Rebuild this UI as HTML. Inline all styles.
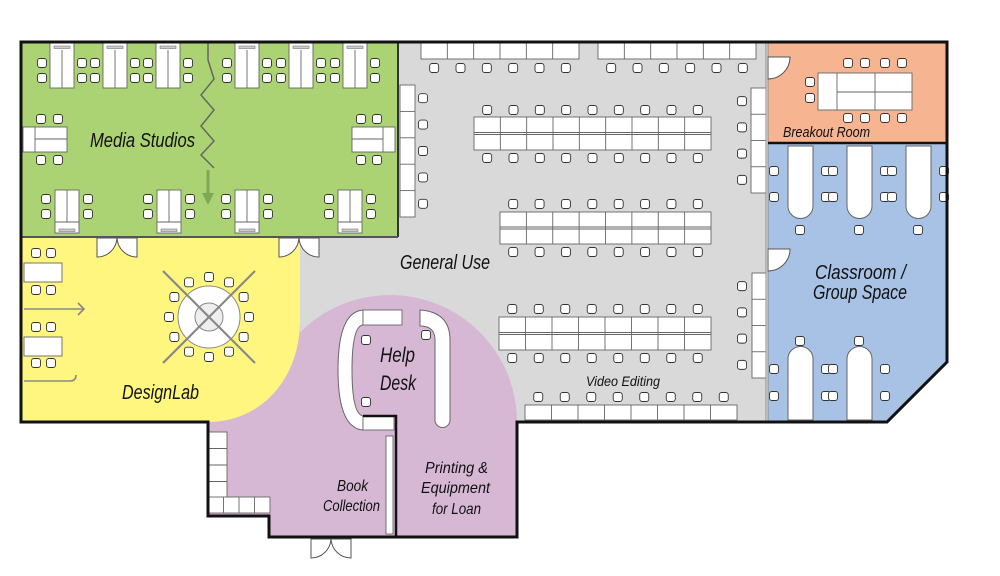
<!DOCTYPE html>
<html><head><meta charset="utf-8"><style>
html,body{margin:0;padding:0;background:#fff}
svg{display:block}
text{font-family:"Liberation Sans Narrow","Liberation Sans",sans-serif;font-style:italic;fill:#111}
</style></head><body>
<svg id="s" width="1000" height="576" viewBox="0 0 1000 576" xmlns="http://www.w3.org/2000/svg">
<defs><clipPath id="cp"><rect x="0" y="0" width="1000" height="422"/><path d="M208,421 H517 V537 H269 V516 H208 Z"/></clipPath></defs>
<rect x="300" y="42" width="468" height="380" fill="#d9d9d9"/>
<rect x="21" y="42" width="377" height="195" fill="#acd373"/>
<g clip-path="url(#cp)"><circle cx="390" cy="422" r="127" fill="#d6b8d4"/></g>
<rect x="208" y="290" width="92" height="133" fill="#d6b8d4"/>
<path d="M208,421 H517 V537 H269 V516 H208 Z" fill="#d6b8d4"/>
<path d="M21,237 H300 V320 C300,380 260,422 208,422 H21 Z" fill="#fff67f"/>
<rect x="768" y="42" width="179" height="101" fill="#f7b490"/>
<path d="M768,143 H947 V362 L887,422 H768 Z" fill="#a7c2e4"/>
<g id="furn"></g>
<polyline points="208,42 208,60 214,79 201,95 214,110 201,126 214,141 201,155 214,168" fill="none" stroke="#666" stroke-width="1.5"/>
<line x1="208" y1="170" x2="208" y2="196" stroke="#7fa855" stroke-width="3"/>
<polygon points="202,193 214,193 208,205" fill="#7fa855"/>
<g fill="none" stroke="#111">
<line x1="398" y1="42" x2="398" y2="237" stroke-width="2" stroke="#333"/>
<line x1="21" y1="237" x2="398" y2="237" stroke-width="2" stroke="#555"/>
<line x1="767" y1="42" x2="767" y2="422" stroke-width="3" stroke="#888"/>
<line x1="767" y1="42" x2="767" y2="422" stroke-width="1" stroke="#eee"/>
<line x1="768" y1="143" x2="947" y2="143" stroke-width="2.5"/>
<path d="M363,416 H396 V537" stroke-width="2.5"/>
<path d="M21,42 H947 V362 L887,422 H517 V537 H269 V516 H208 V422 H21 Z" stroke-width="3"/>
</g>
<g fill="#fff" stroke="#555" stroke-width="1">
<path d="M97,238 V257 A20,20 0 0 0 117,238 Z"/><path d="M137,238 V257 A20,20 0 0 1 117,238 Z"/>
<path d="M279,238 V257 A20,20 0 0 0 299,238 Z"/><path d="M319,238 V257 A20,20 0 0 1 299,238 Z"/>
<path d="M311,539 V558 A20,20 0 0 0 331,539 Z"/><path d="M351,539 V558 A20,20 0 0 1 331,539 Z"/>
<path d="M768,57 H790 A22,22 0 0 1 768,79 Z"/>
<path d="M768,249 H790 A22,22 0 0 1 768,271 Z"/>
</g>
<text x="90" y="147" font-size="20" textLength="105" lengthAdjust="spacingAndGlyphs">Media Studios</text>
<text x="400" y="269" font-size="20" textLength="90" lengthAdjust="spacingAndGlyphs">General Use</text>
<text x="122" y="399" font-size="20" textLength="77" lengthAdjust="spacingAndGlyphs">DesignLab</text>
<text x="380" y="362" font-size="21" textLength="35" lengthAdjust="spacingAndGlyphs">Help</text>
<text x="380" y="390" font-size="21" textLength="36" lengthAdjust="spacingAndGlyphs">Desk</text>
<text x="337" y="491" font-size="16" textLength="31" lengthAdjust="spacingAndGlyphs">Book</text>
<text x="323" y="511" font-size="16" textLength="57" lengthAdjust="spacingAndGlyphs">Collection</text>
<text x="425" y="473" font-size="16" textLength="63" lengthAdjust="spacingAndGlyphs">Printing &amp;</text>
<text x="421" y="493" font-size="16" textLength="69" lengthAdjust="spacingAndGlyphs">Equipment</text>
<text x="432" y="514" font-size="16" textLength="49" lengthAdjust="spacingAndGlyphs">for Loan</text>
<text x="586" y="386" font-size="14" textLength="74" lengthAdjust="spacingAndGlyphs">Video Editing</text>
<text x="783" y="137" font-size="15" textLength="87" lengthAdjust="spacingAndGlyphs">Breakout Room</text>
<text x="815" y="279" font-size="20" textLength="91" lengthAdjust="spacingAndGlyphs">Classroom /</text>
<text x="813" y="299" font-size="20" textLength="94" lengthAdjust="spacingAndGlyphs">Group Space</text>
</svg>
<script>
var g=document.getElementById('furn'),h='';
function ch(x,y){h+='<rect x="'+(x-4.5)+'" y="'+(y-4.5)+'" width="9" height="9" rx="2.5" fill="#fff" stroke="#333" stroke-width="0.9"/>';}
function R(x,y,w,hh,extra){h+='<rect x="'+x+'" y="'+y+'" width="'+w+'" height="'+hh+'" fill="#fff" stroke="#666" stroke-width="0.9" '+(extra||'')+'/>';}
function L(a,b,c,d,col,w){h+='<line x1="'+a+'" y1="'+b+'" x2="'+c+'" y2="'+d+'" stroke="'+(col||'#666')+'" stroke-width="'+(w||0.9)+'"/>';}
function hrow(x,y,w,hh,n,split){R(x,y,w,hh);var cw=w/n;for(var i=1;i<n;i++)L(x+cw*i,y,x+cw*i,y+hh);if(split){L(x,y+hh/2-1,x+w,y+hh/2-1);L(x,y+hh/2+1,x+w,y+hh/2+1);}}
function vrow(x,y,w,hh,n){R(x,y,w,hh);var c=hh/n;for(var i=1;i<n;i++)L(x,y+c*i,x+w,y+c*i);}
function chRowH(x0,x1,n,y){var cw=(x1-x0)/n;for(var i=0;i<n;i++)ch(x0+cw*(i+.5),y);}
function chRowV(y0,y1,n,x){var c=(y1-y0)/n;for(var i=0;i<n;i++)ch(x,y0+c*(i+.5));}
hrow(421,43,158,16,6);chRowH(421,579,6,68);
hrow(598,43,158,16,6);chRowH(598,756,6,68);
vrow(400,85,15,132,5);chRowV(85,217,5,423);
hrow(474,117,237,33,9,1);chRowH(474,711,9,110);chRowH(474,711,9,158);
vrow(751,88,15,105,4);chRowV(88,193,4,742);
hrow(500,212,211,32,8,1);chRowH(500,711,8,204);chRowH(500,711,8,252);
hrow(499,317,212,33,8,1);chRowH(499,711,8,309);chRowH(499,711,8,358);
vrow(752,273,15,105,4);chRowV(273,378,4,742);
hrow(525,405,212,15,8);chRowH(525,737,8,397);
[62,115,168,247,301,355].forEach(function(c){R(c-12,43,24,45);L(c,50,c,88);h+='<rect x="'+(c-8)+'" y="46" width="16" height="2.5" fill="#ccc" stroke="#777" stroke-width="0.6"/>';ch(c-20,63);ch(c-20,78);ch(c+20,63);ch(c+20,78);});
[67,169,247,350].forEach(function(c){R(c-12,190,24,43);L(c,190,c,222);L(c-12,222,c+12,222);h+='<rect x="'+(c-8)+'" y="229" width="16" height="2.5" fill="#ccc" stroke="#777" stroke-width="0.6"/>';ch(c-21,199);ch(c-21,214);ch(c+21,199);ch(c+21,214);});
R(23,127,44,25);L(35,127,35,152);L(35,139,67,139);ch(41,119);ch(58,119);ch(41,160);ch(58,160);
R(352,127,43,25);L(383,127,383,152);L(352,139,383,139);ch(361,119);ch(377,119);ch(361,160);ch(377,160);
R(24,263,38,19);ch(36,253);ch(51,253);ch(36,290);ch(51,290);
R(24,337,38,19);ch(36,327);ch(51,327);ch(36,363);ch(51,363);
h+='<path d="M24,309 H84 M78,303 L84,309 L78,315 M24,381 H70 Q76,381 76,375" fill="none" stroke="#888" stroke-width="1.6"/>';
var cx=209,cy=317;
for(var a=0;a<360;a+=30){var r=a*Math.PI/180;ch(cx+40*Math.cos(r),cy+40*Math.sin(r));}
h+='<circle cx="'+cx+'" cy="'+cy+'" r="31" fill="#fff" stroke="#888"/><circle cx="'+cx+'" cy="'+cy+'" r="14" fill="#eee" stroke="#888"/>';
L(163,271,255,363,'#888',2.2);L(255,271,163,363,'#888',2.2);
h+='<path d="M363,310 Q338,312 338,370 Q338,428 363,430 L363,416 Q352,414 352,370 Q352,326 363,325 Z" fill="#fff" stroke="#666"/>';
R(363,310,39,15);R(363,416,31,14);
h+='<path d="M420,310 Q450,312 450,340 V420 A7.5,7.5 0 0 1 435,420 V340 Q435,326 420,326 Z" fill="#fff" stroke="#666"/>';
ch(366,340);ch(366,402);ch(426,335);
R(386,436,7,98);
vrow(208,432,19,66,4);hrow(208,497,62,16,4);
R(818,73,94,37);L(837,73,837,110);L(875,73,875,110);L(837,92,912,92);
[848,865,885,902].forEach(function(x){ch(x,63);ch(x,118);});ch(810,82);ch(810,98);
[800,859,918].forEach(function(x){h+='<path d="M788,146 H813 V206 A12.5,12.5 0 0 1 788,206 Z" transform="translate('+(x-800)+',0)" fill="#fff" stroke="#666"/>';ch(x-26,171);ch(x-26,197);ch(x+26,171);ch(x+26,197);ch(x,230);});
[800,859].forEach(function(x){h+='<path d="M788,420 H813 V359 A12.5,12.5 0 0 0 788,359 Z" transform="translate('+(x-800)+',0)" fill="#fff" stroke="#666"/>';ch(x-26,369);ch(x-26,396);ch(x+26,369);ch(x+26,396);ch(x,341);});
g.innerHTML=h;
</script>
</body></html>
